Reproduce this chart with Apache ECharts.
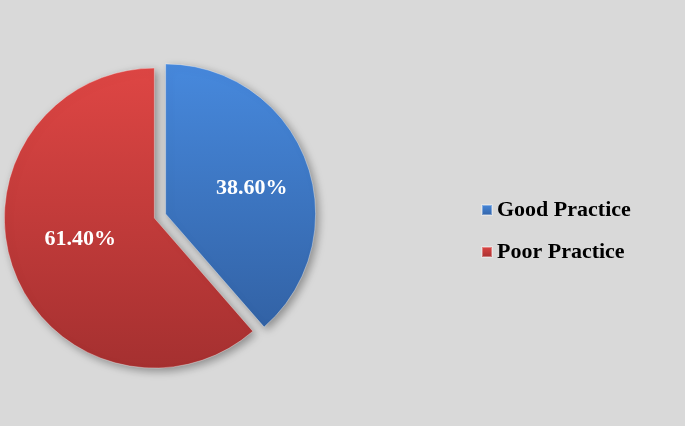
<!DOCTYPE html>
<html>
<head>
<meta charset="utf-8">
<script src="https://cdn.jsdelivr.net/npm/echarts@6/dist/echarts.min.js"></script>
<style>
  html, body { margin: 0; padding: 0; background: #d9d9d9; }
  #chart { width: 685px; height: 426px; }
</style>
</head>
<body>
<div id="chart"></div>
<script>
// 数据
var categories = ['Good Practice', 'Poor Practice'];
var values = [38.6, 61.4];
var topColors = ['#4789dd', '#de4644'];
var bottomColors = ['#3262a5', '#a53030'];

var chart = echarts.init(document.getElementById('chart'));

var pieData = categories.map(function (name, i) {
  return {
    name: name,
    value: values[i],
    selected: true,
    itemStyle: {
      color: new echarts.graphic.LinearGradient(0, 0, 0, 1, [
        { offset: 0, color: topColors[i] },
        { offset: 1, color: bottomColors[i] }
      ])
    }
  };
});

var option = {
  backgroundColor: '#d9d9d9',
  animation: false,
  legend: {
    orient: 'vertical',
    left: 476,
    top: 194,
    itemWidth: 10,
    itemHeight: 10,
    itemGap: 20,
    icon: 'rect',
    textStyle: {
      fontFamily: 'Liberation Serif',
      fontWeight: 'bold',
      fontSize: 22,
      color: '#000'
    },
    data: categories
  },
  series: [
    {
      type: 'pie',
      center: [160, 216],
      radius: 150,
      startAngle: 90,
      selectedMode: 'multiple',
      selectedOffset: 6,
      emphasis: { scale: false, disabled: true },
      itemStyle: {
        borderColor: 'rgba(255,255,255,0.35)',
        borderWidth: 1,
        shadowBlur: 8,
        shadowColor: 'rgba(0,0,0,0.35)',
        shadowOffsetX: 3,
        shadowOffsetY: 3
      },
      label: {
        position: 'inside',
        formatter: function (p) { return p.value.toFixed(2) + '%'; },
        fontFamily: 'Liberation Serif',
        fontWeight: 'bold',
        fontSize: 22,
        color: '#fff'
      },
      labelLine: { show: false },
      labelLayout: function (params) {
        if (params.dataIndex === 0) return { dx: 13, dy: 2 };
        return { dx: -1, dy: -6 };
      },
      data: pieData
    }
  ]
};

chart.setOption(option);
</script>
</body>
</html>
